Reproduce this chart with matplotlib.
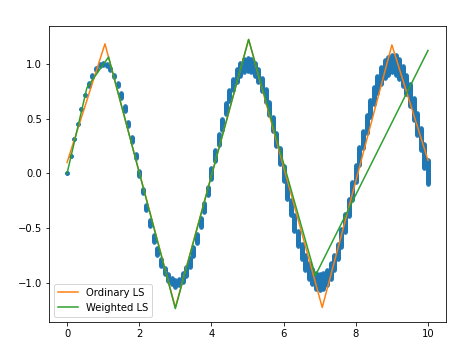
import numpy as np
import matplotlib
matplotlib.use("Agg")
import matplotlib.pyplot as plt

# measured data: one column every 0.1 on x, centre and half height of the blue stack
x_data = np.round(np.arange(0, 101) * 0.1, 1)
y_mid = np.array([
    0.00, 0.16, 0.31, 0.45, 0.59, 0.71, 0.81, 0.89, 0.95, 0.99, 1.00,
    0.99, 0.95, 0.89, 0.81, 0.71, 0.59, 0.45, 0.31, 0.16, 0.00,
    -0.16, -0.31, -0.45, -0.59, -0.71, -0.81, -0.89, -0.95, -0.98, -1.00,
    -0.99, -0.95, -0.89, -0.81, -0.71, -0.59, -0.45, -0.31, -0.16, 0.00,
    0.16, 0.31, 0.45, 0.59, 0.71, 0.81, 0.89, 0.95, 0.98, 0.99,
    0.98, 0.95, 0.89, 0.81, 0.71, 0.59, 0.45, 0.31, 0.16, 0.00,
    -0.16, -0.31, -0.45, -0.59, -0.71, -0.81, -0.89, -0.94, -0.98, -0.99,
    -0.98, -0.95, -0.89, -0.81, -0.71, -0.59, -0.45, -0.31, -0.16, 0.00,
    0.16, 0.31, 0.45, 0.59, 0.71, 0.81, 0.89, 0.95, 0.98, 1.00,
    0.99, 0.95, 0.89, 0.81, 0.71, 0.59, 0.45, 0.31, 0.16, 0.01,
])
y_half = np.array([
    0.00, 0.00, 0.00, 0.00, 0.00, 0.00, 0.01, 0.01, 0.01, 0.01, 0.01,
    0.01, 0.01, 0.01, 0.01, 0.02, 0.02, 0.02, 0.02, 0.02, 0.02,
    0.02, 0.02, 0.03, 0.03, 0.03, 0.03, 0.03, 0.03, 0.03, 0.03,
    0.03, 0.04, 0.04, 0.04, 0.04, 0.04, 0.04, 0.04, 0.04, 0.05,
    0.05, 0.05, 0.05, 0.05, 0.05, 0.05, 0.06, 0.06, 0.06, 0.06,
    0.06, 0.06, 0.06, 0.06, 0.06, 0.06, 0.06, 0.06, 0.07, 0.07,
    0.07, 0.07, 0.07, 0.07, 0.07, 0.07, 0.07, 0.07, 0.07, 0.07,
    0.07, 0.07, 0.07, 0.07, 0.07, 0.08, 0.08, 0.08, 0.08, 0.08,
    0.08, 0.08, 0.08, 0.08, 0.08, 0.08, 0.08, 0.08, 0.08, 0.08,
    0.09, 0.09, 0.09, 0.09, 0.10, 0.10, 0.10, 0.10, 0.11, 0.11,
])

# piecewise linear fits (knots)
ols_x = [0, 1.05, 3, 5.03, 7.07, 9, 10]
ols_y = [0.10, 1.18, -1.22, 1.22, -1.22, 1.17, 0.12]
wls_x = [0, 0.55, 1.15, 3, 5.03, 6.88, 10]
wls_y = [0.00, 0.78, 1.06, -1.23, 1.22, -0.93, 1.12]

fig = plt.figure(figsize=(474 / 72, 355 / 72), dpi=72)
ax = fig.add_axes([0.1034, 0.093, 0.8376, 0.8338])

lo = y_mid - y_half
hi = y_mid + y_half
ax.vlines(x_data, lo, hi, colors='#1f77b4', linewidth=5, zorder=1)
ax.plot(x_data, lo, '.', color='#1f77b4', markersize=7, zorder=1)
ax.plot(x_data, hi, '.', color='#1f77b4', markersize=7, zorder=1)

ax.plot(ols_x, ols_y, color='tab:orange', label='Ordinary LS', zorder=2)
ax.plot(wls_x, wls_y, color='tab:green', label='Weighted LS', zorder=3)
ax.legend(loc='lower left')

fig.savefig('out.png', dpi=72)
